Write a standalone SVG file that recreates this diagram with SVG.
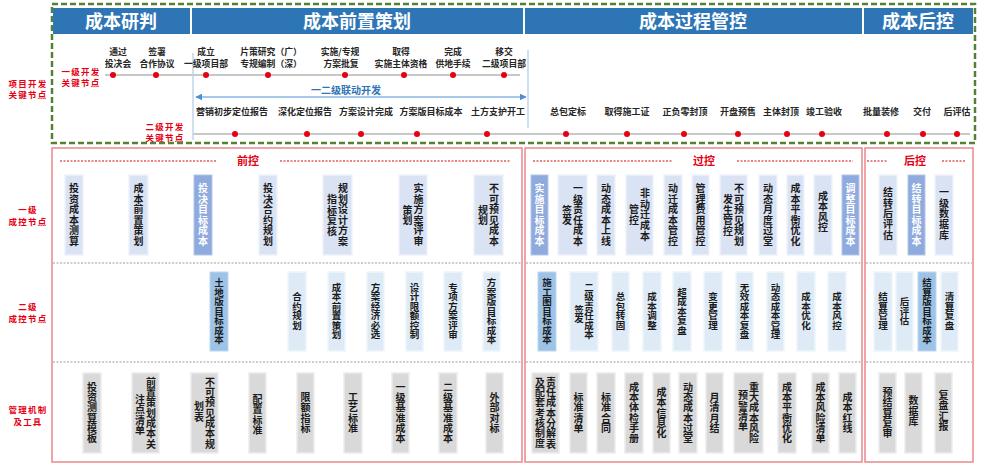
<svg xmlns="http://www.w3.org/2000/svg" width="983" height="465" viewBox="0 0 983 465">
<defs>
<style>
text{font-family:"Noto Sans CJK SC","Noto Sans",sans-serif;font-weight:700}
.hd{font-size:18px;fill:#fff;text-anchor:middle}
.lb{font-size:9px;fill:#262626;text-anchor:middle}
.lt{font-size:8.8px}
.rd{font-size:8.5px;fill:#E60012;text-anchor:middle;letter-spacing:1.2px}
.st{font-size:11px;fill:#E60012;text-anchor:middle}
.bl{font-size:10px;fill:#2E75B6;text-anchor:middle}
.v{writing-mode:vertical-rl;text-anchor:middle;fill:#1a1a1a}
.r1{font-size:10px;letter-spacing:0.6px}
.r2{font-size:9.5px}
.r3{font-size:10px;letter-spacing:0.3px}
.w{fill:#fff}
.b1{fill:#DAE3F3;stroke:#EEF3FB;stroke-width:1.5}
.b1h{fill:#8FAADC;stroke:#B4C7E7;stroke-width:1}
.b2{fill:#DEEBF7;stroke:#EEF5FB;stroke-width:1.5}
.b2h{fill:#9DC3E6;stroke:#BDD7EE;stroke-width:1}
.b3{fill:#D9D9D9;stroke:#ECECEC;stroke-width:1.5}
.hbar{fill:#2E75B6}
.frame{fill:none;stroke:#E8888A;stroke-width:1.5}
.sep{stroke:#BDBDBD;stroke-width:1.5;stroke-dasharray:2 1.5}
.rdot{stroke:#E85A5A;stroke-width:1.5;stroke-dasharray:2 1.5}
.gl{stroke:#C8C8C8;stroke-width:2}
.dot{fill:#E60012}
.vl{stroke:#9DC3E6;stroke-width:1}
</style>
<marker id="ah" viewBox="0 0 10 10" refX="9" refY="5" markerWidth="7" markerHeight="7" orient="auto-start-reverse" markerUnits="userSpaceOnUse">
<path d="M0,0 L10,5 L0,10 z" fill="#4A90D9"/>
</marker>
</defs>
<rect width="983" height="465" fill="#fff"/>

<rect x="52" y="4" width="923" height="139" fill="none" stroke="#548235" stroke-width="2.5" stroke-dasharray="6 3"/>

<g id="header">
<rect class="hbar" x="53" y="8" width="137" height="26"/>
<rect class="hbar" x="192" y="8" width="331" height="26"/>
<rect class="hbar" x="525" y="8" width="337" height="26"/>
<rect class="hbar" x="864" y="8" width="109" height="26"/>
<text class="hd" x="121" y="28">成本研判</text>
<text class="hd" x="357" y="28">成本前置策划</text>
<text class="hd" x="693" y="28">成本过程管控</text>
<text class="hd" x="918" y="28">成本后控</text>
</g>

<g id="row-labels">
<text class="rd"><tspan x="28" y="87">项目开发</tspan><tspan x="28" y="98">关键节点</tspan></text>
<text class="rd"><tspan x="81" y="75">一级开发</tspan><tspan x="81" y="86">关键节点</tspan></text>
<text class="rd"><tspan x="165" y="130">二级开发</tspan><tspan x="165" y="141">关键节点</tspan></text>
<text class="rd"><tspan x="28" y="213">一级</tspan><tspan x="28" y="225">成控节点</tspan></text>
<text class="rd"><tspan x="28" y="310">二级</tspan><tspan x="28" y="322">成控节点</tspan></text>
<text class="rd"><tspan x="28" y="413">管理机制</tspan><tspan x="28" y="425">及工具</tspan></text>
</g>

<g id="connectors">
<line class="vl" x1="193" y1="53" x2="193" y2="140"/>
<line class="vl" x1="528" y1="50" x2="528" y2="128"/>
<line class="gl" x1="105" y1="75" x2="520" y2="75"/>
<line class="gl" x1="193" y1="134" x2="970" y2="134"/>
<line x1="196" y1="97" x2="526" y2="97" stroke="#4A90D9" stroke-width="1.2" marker-start="url(#ah)" marker-end="url(#ah)"/>
</g>
<text class="bl" x="346" y="94">一二级联动开发</text>

<g id="level1-nodes">
<circle class="dot" cx="113" cy="75" r="3"/>
<circle class="dot" cx="156" cy="75" r="3"/>
<circle class="dot" cx="206" cy="75" r="3"/>
<circle class="dot" cx="268" cy="75" r="3"/>
<circle class="dot" cx="345" cy="75" r="3"/>
<circle class="dot" cx="404" cy="75" r="3"/>
<circle class="dot" cx="453" cy="75" r="3"/>
<circle class="dot" cx="504" cy="75" r="3"/>
<text class="lb lt"><tspan x="118" y="55">通过</tspan><tspan x="118" y="67">投决会</tspan></text>
<text class="lb lt"><tspan x="157" y="55">签署</tspan><tspan x="157" y="67">合作协议</tspan></text>
<text class="lb lt"><tspan x="206" y="55">成立</tspan><tspan x="206" y="67">一级项目部</tspan></text>
<text class="lb lt"><tspan x="271" y="55">片策研究（广）</tspan><tspan x="271" y="67">专规编制（深）</tspan></text>
<text class="lb lt"><tspan x="340" y="55">实施/专规</tspan><tspan x="341" y="67">方案批复</tspan></text>
<text class="lb lt"><tspan x="401" y="55">取得</tspan><tspan x="401" y="67">实施主体资格</tspan></text>
<text class="lb lt"><tspan x="453" y="55">完成</tspan><tspan x="453" y="67">供地手续</tspan></text>
<text class="lb lt"><tspan x="504" y="55">移交</tspan><tspan x="504" y="67">二级项目部</tspan></text>
</g>

<g id="level2-nodes">
<circle class="dot" cx="235" cy="134" r="3"/>
<circle class="dot" cx="307" cy="134" r="3"/>
<circle class="dot" cx="361" cy="134" r="3"/>
<circle class="dot" cx="417" cy="134" r="3"/>
<circle class="dot" cx="487" cy="134" r="3"/>
<circle class="dot" cx="566" cy="134" r="3"/>
<circle class="dot" cx="627" cy="134" r="3"/>
<circle class="dot" cx="684" cy="134" r="3"/>
<circle class="dot" cx="738" cy="134" r="3"/>
<circle class="dot" cx="787" cy="134" r="3"/>
<circle class="dot" cx="822" cy="134" r="3"/>
<circle class="dot" cx="887" cy="134" r="3"/>
<circle class="dot" cx="923" cy="134" r="3"/>
<circle class="dot" cx="957" cy="134" r="3"/>
<text class="lb" x="232" y="115">营销初步定位报告</text>
<text class="lb" x="305" y="115">深化定位报告</text>
<text class="lb" x="366" y="115">方案设计完成</text>
<text class="lb" x="431" y="115">方案版目标成本</text>
<text class="lb" x="498" y="115">土方支护开工</text>
<text class="lb" x="568" y="115">总包定标</text>
<text class="lb" x="627" y="115">取得施工证</text>
<text class="lb" x="685" y="115">正负零封顶</text>
<text class="lb" x="738" y="115">开盘预售</text>
<text class="lb" x="781" y="115">主体封顶</text>
<text class="lb" x="824" y="115">竣工验收</text>
<text class="lb" x="881" y="115">批量装修</text>
<text class="lb" x="922" y="115">交付</text>
<text class="lb" x="957" y="115">后评估</text>
</g>

<g id="sections">
<rect class="frame" x="52" y="148" width="470" height="314"/>
<rect class="frame" x="525" y="148" width="337" height="314"/>
<rect class="frame" x="865" y="148" width="108" height="314"/>
<line class="sep" x1="53" y1="263" x2="521" y2="263"/>
<line class="sep" x1="53" y1="362" x2="521" y2="362"/>
<line class="sep" x1="526" y1="263" x2="861" y2="263"/>
<line class="sep" x1="526" y1="362" x2="861" y2="362"/>
<line class="sep" x1="866" y1="263" x2="972" y2="263"/>
<line class="sep" x1="866" y1="362" x2="972" y2="362"/>
<line class="rdot" x1="60" y1="161" x2="217" y2="161"/>
<line class="rdot" x1="280" y1="161" x2="510" y2="161"/>
<text class="st" x="248" y="165">前控</text>
<line class="rdot" x1="533" y1="161" x2="672" y2="161"/>
<line class="rdot" x1="737" y1="161" x2="853" y2="161"/>
<text class="st" x="704" y="165">过控</text>
<line class="rdot" x1="867" y1="161" x2="887" y2="161"/>
<line class="rdot" x1="942" y1="161" x2="966" y2="161"/>
<text class="st" x="915" y="165">后控</text>
</g>

<g id="n1-1"><rect class="b1" x="65" y="175" width="18" height="80"/><text class="v r1" x="74" y="215">投资成本测算</text></g>
<g id="n1-2"><rect class="b1" x="129" y="175" width="19" height="80"/><text class="v r1" x="138.5" y="215">成本前置策划</text></g>
<g id="n1-3"><rect class="b1h" x="194" y="175" width="18" height="80"/><text class="v r1 w" x="203" y="215">投决目标成本</text></g>
<g id="n1-4"><rect class="b1" x="259" y="175" width="18" height="80"/><text class="v r1" x="268" y="215">投决合约规划</text></g>
<g id="n1-5"><rect class="b1" x="323" y="175" width="29" height="80"/><text class="v r1"><tspan x="343" y="215">规划设计方案</tspan><tspan x="332" y="215">指标复核</tspan></text></g>
<g id="n1-6"><rect class="b1" x="399" y="175" width="28" height="80"/><text class="v r1"><tspan x="418.5" y="215">实施方案评审</tspan><tspan x="407.5" y="215">策划</tspan></text></g>
<g id="n1-7"><rect class="b1" x="474" y="175" width="29" height="80"/><text class="v r1"><tspan x="494" y="215">不可预见成本</tspan><tspan x="483" y="215">规划</tspan></text></g>
<g id="n1-8"><rect class="b1h" x="531" y="175" width="17" height="80"/><text class="v r1 w" x="539.5" y="215">实施目标成本</text></g>
<g id="n1-9"><rect class="b1" x="558" y="175" width="29" height="80"/><text class="v r1"><tspan x="578" y="215">一级责任成本</tspan><tspan x="567" y="215">签发</tspan></text></g>
<g id="n1-10"><rect class="b1" x="597" y="175" width="18" height="80"/><text class="v r1" x="606" y="215">动态成本上线</text></g>
<g id="n1-11"><rect class="b1" x="626" y="175" width="27" height="80"/><text class="v r1"><tspan x="645" y="215">非动迁成本</tspan><tspan x="634" y="215">管控</tspan></text></g>
<g id="n1-12"><rect class="b1" x="664" y="175" width="18" height="80"/><text class="v r1" x="673" y="215">动迁成本管控</text></g>
<g id="n1-13"><rect class="b1" x="692" y="175" width="17" height="80"/><text class="v r1" x="700.5" y="215">管理费用管控</text></g>
<g id="n1-14"><rect class="b1" x="720" y="175" width="27" height="80"/><text class="v r1"><tspan x="739" y="215">不可预见规划</tspan><tspan x="728" y="215">发生管控</tspan></text></g>
<g id="n1-15"><rect class="b1" x="759" y="175" width="18" height="80"/><text class="v r1" x="768" y="215">动态月度过堂</text></g>
<g id="n1-16"><rect class="b1" x="787" y="175" width="17" height="80"/><text class="v r1" x="795.5" y="215">成本平衡优化</text></g>
<g id="n1-17"><rect class="b1" x="814" y="175" width="18" height="80"/><text class="v r1" x="823" y="212">成本风控</text></g>
<g id="n1-18"><rect class="b1h" x="842" y="175" width="17" height="80"/><text class="v r1 w" x="850.5" y="215">调整目标成本</text></g>
<g id="n1-19"><rect class="b1" x="879" y="175" width="18" height="80"/><text class="v r1" x="888" y="214">结转后评估</text></g>
<g id="n1-20"><rect class="b1h" x="908" y="175" width="17" height="80"/><text class="v r1 w" x="916.5" y="215">结转目标成本</text></g>
<g id="n1-21"><rect class="b1" x="935" y="175" width="18" height="80"/><text class="v r1" x="944" y="214">一级数据库</text></g>

<g id="n2-1"><rect class="b2h" x="210" y="272" width="18" height="79"/><text class="v r2" x="219" y="311">土地版目标成本</text></g>
<g id="n2-2"><rect class="b2" x="288" y="272" width="18" height="79"/><text class="v r2" x="297" y="311">合约规划</text></g>
<g id="n2-3"><rect class="b2" x="328" y="272" width="17" height="79"/><text class="v r2" x="336.5" y="311">成本前置策划</text></g>
<g id="n2-4"><rect class="b2" x="367" y="272" width="17" height="79"/><text class="v r2" x="375.5" y="311">方案经济必选</text></g>
<g id="n2-5"><rect class="b2" x="406" y="272" width="17" height="79"/><text class="v r2" x="414.5" y="311">设计限额控制</text></g>
<g id="n2-6"><rect class="b2" x="444" y="272" width="18" height="79"/><text class="v r2" x="453" y="311">专项方案评审</text></g>
<g id="n2-7"><rect class="b2" x="483" y="272" width="17" height="79"/><text class="v r2" x="491.5" y="311">方案版目标成本</text></g>
<g id="n2-8"><rect class="b2h" x="538" y="272" width="18" height="79"/><text class="v r2" x="547" y="311">施工图目标成本</text></g>
<g id="n2-9"><rect class="b2" x="570" y="272" width="28" height="79"/><text class="v r2"><tspan x="589" y="311">二级责任成本</tspan><tspan x="579" y="314">签发</tspan></text></g>
<g id="n2-10"><rect class="b2" x="612" y="272" width="17" height="79"/><text class="v r2" x="620.5" y="311">总包转固</text></g>
<g id="n2-11"><rect class="b2" x="643" y="272" width="18" height="79"/><text class="v r2" x="652" y="311">成本调整</text></g>
<g id="n2-12"><rect class="b2" x="673" y="272" width="18" height="79"/><text class="v r2" x="682" y="311">超成本复盘</text></g>
<g id="n2-13"><rect class="b2" x="704" y="272" width="18" height="79"/><text class="v r2" x="713" y="311">变更管理</text></g>
<g id="n2-14"><rect class="b2" x="736" y="272" width="17" height="79"/><text class="v r2" x="744.5" y="311">无效成本复盘</text></g>
<g id="n2-15"><rect class="b2" x="767" y="272" width="17" height="79"/><text class="v r2" x="775.5" y="311">动态成本管理</text></g>
<g id="n2-16"><rect class="b2" x="797" y="272" width="18" height="79"/><text class="v r2" x="806" y="311">成本优化</text></g>
<g id="n2-17"><rect class="b2" x="828" y="272" width="18" height="79"/><text class="v r2" x="837" y="311">成本风控</text></g>
<g id="n2-18"><rect class="b2" x="874" y="272" width="18" height="79"/><text class="v r2" x="883" y="311">结算管理</text></g>
<g id="n2-19"><rect class="b2" x="896" y="272" width="17" height="79"/><text class="v r2" x="904.5" y="311">后评估</text></g>
<g id="n2-20"><rect class="b2h" x="918" y="272" width="18" height="79"/><text class="v r2" x="927" y="311">结算版目标成本</text></g>
<g id="n2-21"><rect class="b2" x="941" y="272" width="17" height="79"/><text class="v r2" x="949.5" y="311">清算复盘</text></g>

<g id="n3-1"><rect class="b3" x="83" y="373" width="18" height="80"/><text class="v r3" x="92" y="413">投资测算模板</text></g>
<g id="n3-2"><rect class="b3" x="132" y="373" width="27" height="80"/><text class="v r3"><tspan x="151" y="413">前置策划成本关</tspan><tspan x="140" y="415">注点清单</tspan></text></g>
<g id="n3-3"><rect class="b3" x="191" y="373" width="27" height="80"/><text class="v r3"><tspan x="210" y="413">不可预见成本规</tspan><tspan x="199" y="412">划表</tspan></text></g>
<g id="n3-4"><rect class="b3" x="249" y="373" width="17" height="80"/><text class="v r3" x="257.5" y="415">配置标准</text></g>
<g id="n3-5"><rect class="b3" x="297" y="373" width="17" height="80"/><text class="v r3" x="305.5" y="413">限额指标</text></g>
<g id="n3-6"><rect class="b3" x="344" y="373" width="18" height="80"/><text class="v r3" x="353" y="413">工艺标准</text></g>
<g id="n3-7"><rect class="b3" x="392" y="373" width="17" height="80"/><text class="v r3" x="400.5" y="413">一级基准成本</text></g>
<g id="n3-8"><rect class="b3" x="439" y="373" width="18" height="80"/><text class="v r3" x="448" y="413">二级基准成本</text></g>
<g id="n3-9"><rect class="b3" x="486" y="373" width="17" height="80"/><text class="v r3" x="494.5" y="413">外部对标</text></g>
<g id="n3-10"><rect class="b3" x="532" y="373" width="27" height="80"/><text class="v r3"><tspan x="551" y="413">责任成本分解表</tspan><tspan x="540" y="413">及配套考核制度</tspan></text></g>
<g id="n3-11"><rect class="b3" x="570" y="373" width="17" height="80"/><text class="v r3" x="578.5" y="413">标准清单</text></g>
<g id="n3-12"><rect class="b3" x="597" y="373" width="18" height="80"/><text class="v r3" x="606" y="413">标准合同</text></g>
<g id="n3-13"><rect class="b3" x="625" y="373" width="18" height="80"/><text class="v r3" x="634" y="413">成本体检手册</text></g>
<g id="n3-14"><rect class="b3" x="653" y="373" width="17" height="80"/><text class="v r3" x="661.5" y="413">成本信息化</text></g>
<g id="n3-15"><rect class="b3" x="679" y="373" width="18" height="80"/><text class="v r3" x="688" y="413">动态成本过堂</text></g>
<g id="n3-16"><rect class="b3" x="706" y="373" width="17" height="80"/><text class="v r3" x="714.5" y="413">月清月结</text></g>
<g id="n3-17"><rect class="b3" x="734" y="373" width="29" height="80"/><text class="v r3"><tspan x="754" y="413">重大成本风险</tspan><tspan x="743" y="411">预警清单</tspan></text></g>
<g id="n3-18"><rect class="b3" x="778" y="373" width="18" height="80"/><text class="v r3" x="787" y="413">成本平衡优化</text></g>
<g id="n3-19"><rect class="b3" x="812" y="373" width="17" height="80"/><text class="v r3" x="820.5" y="413">成本风险清单</text></g>
<g id="n3-20"><rect class="b3" x="839" y="373" width="17" height="80"/><text class="v r3" x="847.5" y="413">成本红线</text></g>
<g id="n3-21"><rect class="b3" x="879" y="373" width="17" height="80"/><text class="v r3" x="887.5" y="413">预结算复审</text></g>
<g id="n3-22"><rect class="b3" x="905" y="373" width="17" height="80"/><text class="v r3" x="913.5" y="411">数据库</text></g>
<g id="n3-23"><rect class="b3" x="935" y="373" width="17" height="80"/><text class="v r3" x="943.5" y="411">复盘汇报</text></g>
</svg>
